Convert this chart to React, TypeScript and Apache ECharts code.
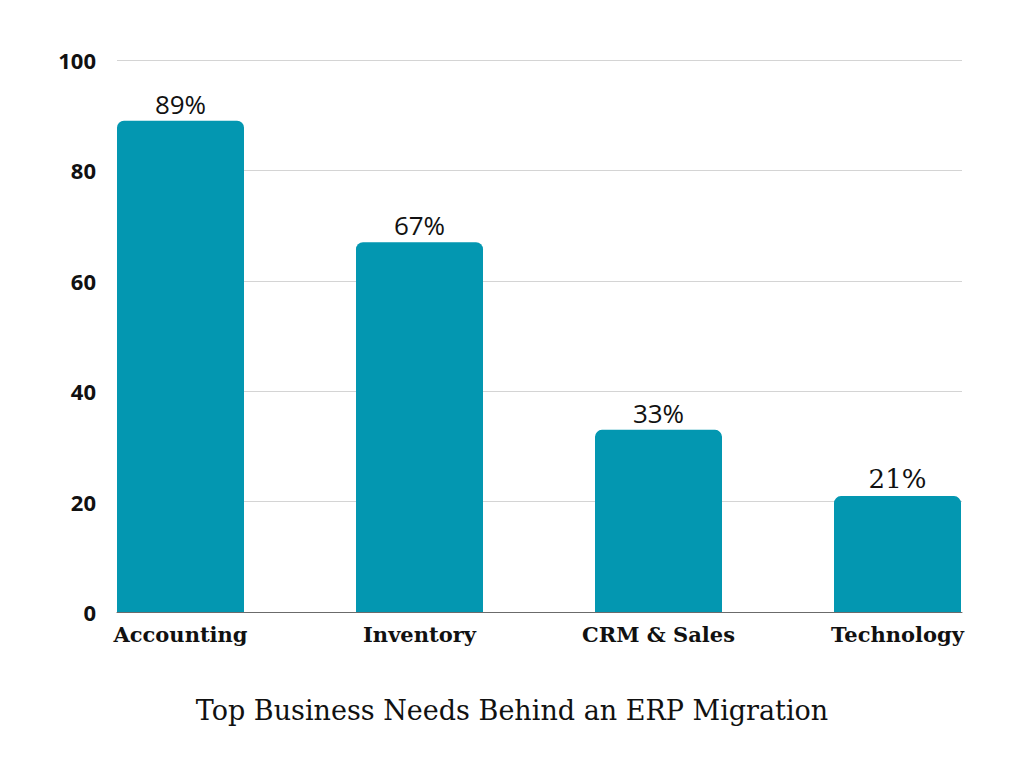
import React, { useEffect, useRef } from "react";
import * as echarts from "echarts";

const categories = ["Accounting", "Inventory", "CRM & Sales", "Technology"];
const shares = [89, 67, 33, 21];
const yTicks = { min: 0, max: 100, interval: 20 };
const chartTitle = "Top Business Needs Behind an ERP Migration";

const BAR_COLOR = "#0397b1";
const SLAB = "'DejaVu Serif', serif";
const SANS = "'Open Sans', 'Noto Sans', sans-serif";

export default function App() {
  const ref = useRef<HTMLDivElement>(null);

  useEffect(() => {
    document.body.style.margin = "0";
    const chart = echarts.init(ref.current!, null, { renderer: "svg" });
    chart.setOption({
      animation: false,
      backgroundColor: "#ffffff",
      title: {
        text: chartTitle,
        left: "center",
        top: 692,
        textStyle: { fontFamily: SLAB, fontWeight: "normal", fontSize: 27, color: "#111" },
      },
      grid: [
        // grid carrying the value axis, gridlines and baseline
        { left: 117, right: 62, top: 60, bottom: 156 },
        // wider grid carrying the bars so the outer bars sit flush with the plot edges
        { left: 61, right: 7, top: 60, bottom: 156 },
      ],
      xAxis: [
        {
          type: "category",
          gridIndex: 0,
          data: categories,
          axisLine: { show: true, lineStyle: { color: "#6b6b6b", width: 1 } },
          axisTick: { show: false },
          axisLabel: { show: false },
        },
        {
          type: "category",
          gridIndex: 1,
          data: categories,
          axisLine: { show: false },
          axisTick: { show: false },
          axisLabel: {
            margin: 12,
            fontFamily: SLAB,
            fontWeight: "bold",
            fontSize: 21,
            color: "#111",
          },
        },
      ],
      yAxis: [
        {
          type: "value",
          gridIndex: 0,
          min: yTicks.min,
          max: yTicks.max,
          interval: yTicks.interval,
          axisLine: { show: false },
          axisTick: { show: false },
          splitLine: { lineStyle: { color: "#d4d4d4", width: 1 } },
          axisLabel: {
            margin: 21,
            fontFamily: SANS,
            fontWeight: "bold",
            fontSize: 22,
            color: "#111",
          },
        },
        {
          type: "value",
          gridIndex: 1,
          min: yTicks.min,
          max: yTicks.max,
          interval: yTicks.interval,
          show: false,
          splitLine: { show: false },
        },
      ],
      series: [
        {
          type: "bar",
          xAxisIndex: 1,
          yAxisIndex: 1,
          barWidth: 127,
          data: shares.map((v, i) => ({
            value: v,
            label: i === shares.length - 1 ? { show: true, fontFamily: SLAB } : undefined,
          })),
          itemStyle: { color: BAR_COLOR, borderRadius: [7, 7, 0, 0] },
          label: {
            show: true,
            position: "top",
            distance: 4,
            formatter: "{c}%",
            fontFamily: SANS,
            fontSize: 26,
            color: "#111",
          },
        },
      ],
    });
    return () => chart.dispose();
  }, []);

  return <div ref={ref} style={{ width: 1024, height: 768 }} />;
}
